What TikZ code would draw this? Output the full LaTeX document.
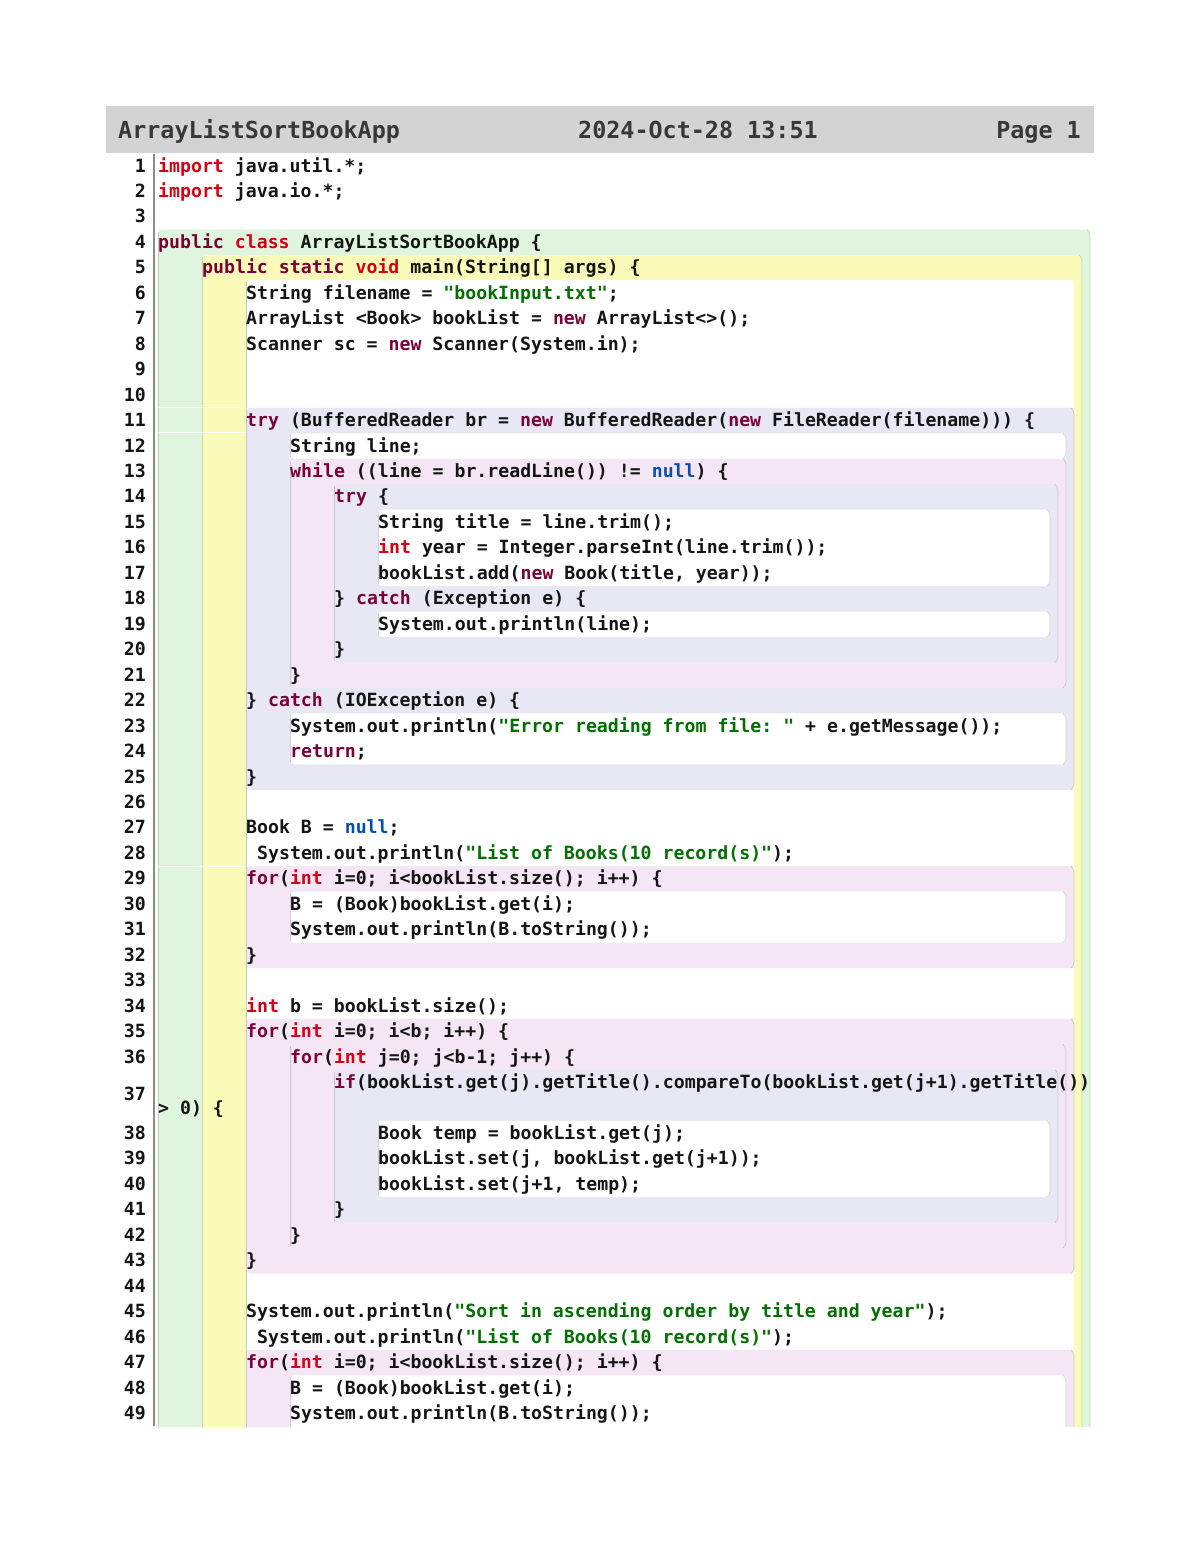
\documentclass[tikz,border=0pt]{standalone}
\usepackage{fontspec}
\setmonofont{DejaVu Sans Mono}
\definecolor{hdr}{RGB}{211,211,211}
\definecolor{cgreen}{RGB}{224,245,222}
\definecolor{cyellow}{RGB}{250,250,185}
\definecolor{clav}{RGB}{232,232,245}
\definecolor{cpink}{RGB}{245,230,245}
\definecolor{kwc}{RGB}{122,0,56}
\definecolor{rdc}{RGB}{210,0,20}
\definecolor{stc}{RGB}{0,110,0}
\definecolor{nuc}{RGB}{0,80,170}
\newcommand\Kw[1]{\textcolor{kwc}{#1}}
\newcommand\Rd[1]{\textcolor{rdc}{#1}}
\newcommand\St[1]{\textcolor{stc}{#1}}
\newcommand\Nu[1]{\textcolor{nuc}{#1}}
\newcommand\codeblk[5]{%
  \pgfmathsetmacro\ya{153.27+(#4-1)*25.46}%
  \pgfmathsetmacro\yb{178.73+(#5-1)*25.46}%
  \fill[#1,rounded corners=4] (#2,\ya) rectangle (#3,\yb);
  \draw[#1!75!black!70,line width=0.6] (#2,\ya+2) -- (#2,\yb-2);
  \draw[#1!75!black!70,line width=0.6,rounded corners=3] (#3-3,\ya) -- (#3,\ya+3) -- (#3,\yb-3) -- (#3-3,\yb);}
\newcommand\cl[3]{%
  \pgfmathsetmacro\yc{172+(#1-1)*25.46}%
  \node[code] (t-#1-#2) at (#2,\yc) {#3};}
\newcommand\nm[2]{%
  \pgfmathsetmacro\yc{172+(#1-1)*25.46}%
  \node[num] (n-#2) at (146,\yc) {#2};}
\tikzset{
  code/.style={anchor=base west,inner sep=0,font=\ttfamily\bfseries\fontsize{18.2}{20}\selectfont,text=black!92},
  num/.style={anchor=base east,inner sep=0,font=\ttfamily\bfseries\fontsize{18.2}{20}\selectfont,text=black!92},
  head/.style={inner sep=0,font=\ttfamily\bfseries\fontsize{23.4}{26}\selectfont,text=black!78}
}
\begin{document}
\begin{tikzpicture}[x=1pt,y=-1pt]
\useasboundingbox (0,0) rectangle (1200,1553);
\fill[hdr] (106,106) rectangle (1094,153);
\node[head,anchor=base west] (h1) at (118,138) {ArrayListSortBookApp};
\node[head,anchor=base west] (h2) at (578,138) {2024-Oct-28 13:51};
\node[head,anchor=base east] (h3) at (1081,138) {Page 1};
\begin{scope}
\clip (0,150) rectangle (1200,1426);
\codeblk{cgreen}{158}{1090}{4}{52}
\codeblk{cyellow}{202}{1082}{5}{52}
\fill[white,rounded corners=4] (246,280) rectangle (1074,1440);
\draw[cgreen!75!black!70,line width=0.6] (246,282) -- (246,1440);
\codeblk{clav}{246}{1074}{11}{25}
\codeblk{white}{290}{1066}{12}{12}
\codeblk{cpink}{290}{1066}{13}{21}
\codeblk{clav}{334}{1058}{14}{20}
\codeblk{white}{378}{1050}{15}{17}
\codeblk{white}{378}{1050}{19}{19}
\codeblk{white}{290}{1066}{23}{24}
\codeblk{cpink}{246}{1074}{29}{32}
\codeblk{white}{290}{1066}{30}{31}
\codeblk{cpink}{246}{1074}{35}{44}
\codeblk{cpink}{290}{1066}{36}{43}
\codeblk{clav}{334}{1058}{37}{42}
\codeblk{white}{378}{1050}{39}{41}
\codeblk{cpink}{246}{1074}{48}{53}
\codeblk{white}{290}{1066}{49}{53}
\draw[white,line width=1] (158,407) -- (246,407);
\draw[white,line width=1] (158,432) -- (246,432);
\draw[white,line width=1] (158,866) -- (246,866);
\end{scope}
\draw[black!45,line width=2] (154,154) -- (154,1426);
% line numbers
\foreach \i in {1,...,36} {\nm{\i}{\i}}
\node[num] (n-37) at (146,1100) {37};
\foreach \i in {38,...,49} {\pgfmathtruncatemacro\r{\i+1}\nm{\r}{\i}}
% code
\cl{1}{158}{\Rd{import} java.util.*;}
\cl{2}{158}{\Rd{import} java.io.*;}
\cl{4}{158}{\Kw{public} \Rd{class} ArrayListSortBookApp \{}
\cl{5}{202}{\Kw{public} \Kw{static} \Rd{void} main(String[] args) \{}
\cl{6}{246}{String filename = \St{"bookInput.txt"};}
\cl{7}{246}{ArrayList <Book> bookList = \Kw{new} ArrayList<>();}
\cl{8}{246}{Scanner sc = \Kw{new} Scanner(System.in);}
\cl{11}{246}{\Kw{try} (BufferedReader br = \Kw{new} BufferedReader(\Kw{new} FileReader(filename))) \{}
\cl{12}{290}{String line;}
\cl{13}{290}{\Kw{while} ((line = br.readLine()) != \Nu{null}) \{}
\cl{14}{334}{\Kw{try} \{}
\cl{15}{378}{String title = line.trim();}
\cl{16}{378}{\Rd{int} year = Integer.parseInt(line.trim());}
\cl{17}{378}{bookList.add(\Kw{new} Book(title, year));}
\cl{18}{334}{\} \Kw{catch} (Exception e) \{}
\cl{19}{378}{System.out.println(line);}
\cl{20}{334}{\}}
\cl{21}{290}{\}}
\cl{22}{246}{\} \Kw{catch} (IOException e) \{}
\cl{23}{290}{System.out.println(\St{"Error reading from file: "} + e.getMessage());}
\cl{24}{290}{\Kw{return};}
\cl{25}{246}{\}}
\cl{27}{246}{Book B = \Nu{null};}
\cl{28}{257}{System.out.println(\St{"List of Books(10 record(s)"});}
\cl{29}{246}{\Kw{for}(\Rd{int} i=0; i<bookList.size(); i++) \{}
\cl{30}{290}{B = (Book)bookList.get(i);}
\cl{31}{290}{System.out.println(B.toString());}
\cl{32}{246}{\}}
\cl{34}{246}{\Rd{int} b = bookList.size();}
\cl{35}{246}{\Kw{for}(\Rd{int} i=0; i<b; i++) \{}
\cl{36}{290}{\Kw{for}(\Rd{int} j=0; j<b-1; j++) \{}
\cl{37}{334}{\Kw{if}(bookList.get(j).getTitle().compareTo(bookList.get(j+1).getTitle())}
\cl{38}{158}{> 0) \{}
\cl{39}{378}{Book temp = bookList.get(j);}
\cl{40}{378}{bookList.set(j, bookList.get(j+1));}
\cl{41}{378}{bookList.set(j+1, temp);}
\cl{42}{334}{\}}
\cl{43}{290}{\}}
\cl{44}{246}{\}}
\cl{46}{246}{System.out.println(\St{"Sort in ascending order by title and year"});}
\cl{47}{257}{System.out.println(\St{"List of Books(10 record(s)"});}
\cl{48}{246}{\Kw{for}(\Rd{int} i=0; i<bookList.size(); i++) \{}
\cl{49}{290}{B = (Book)bookList.get(i);}
\cl{50}{290}{System.out.println(B.toString());}
\end{tikzpicture}
\end{document}
